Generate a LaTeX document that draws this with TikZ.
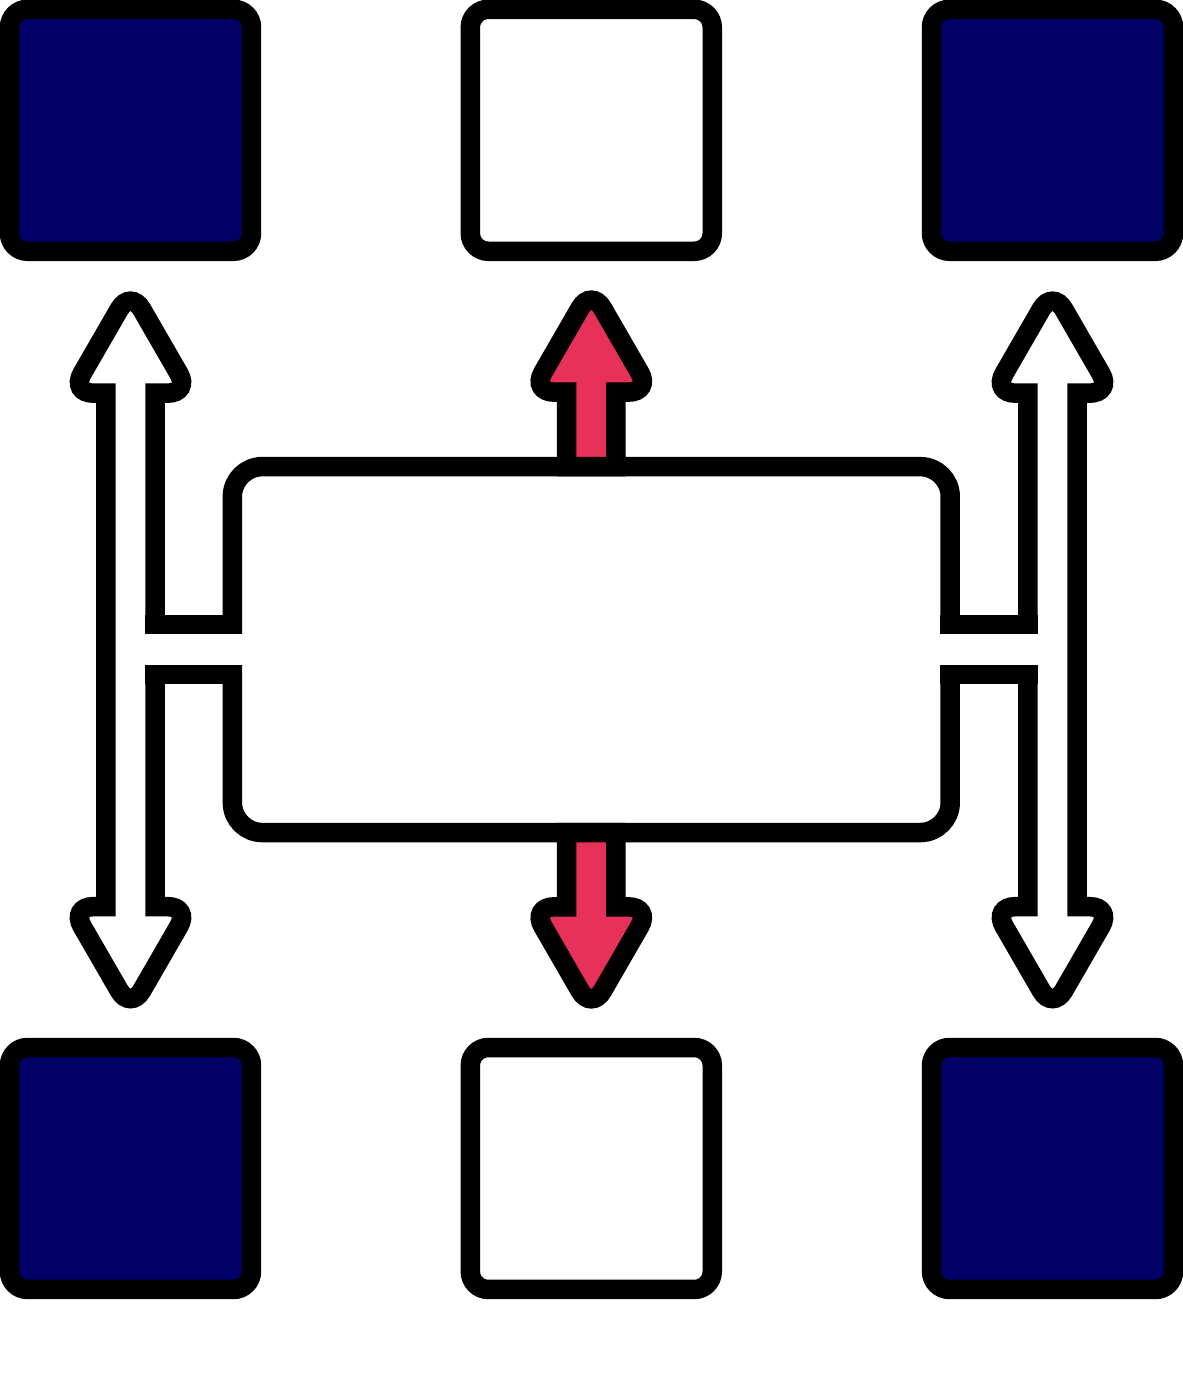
\documentclass[tikz,border=0pt]{standalone}
\usetikzlibrary{calc}
\definecolor{navyfill}{RGB}{0,0,102}
\definecolor{hubred}{RGB}{232,49,88}

\begin{document}
\begin{tikzpicture}[
    x=0.02cm, y=0.02cm,
    base/.style={draw=black, line width=0.39cm, inner sep=0pt, outer sep=0pt},
    tile/.style={base, rectangle, rounded corners=0.36cm, minimum size=4.84cm},
    darktile/.style={tile, fill=navyfill},
    lighttile/.style={tile, fill=white},
    hubbox/.style={base, rectangle, rounded corners=0.6cm, fill=white, minimum width=14.36cm, minimum height=7.32cm},
    blockarrow/.style={draw=black, line width=0.39cm, line join=miter},
    redarrow/.style={blockarrow, fill=hubred},
    hollowarrow/.style={blockarrow, fill=white},
    stub/.style={black, line width=0.39cm, line cap=rect}
  ]
    \useasboundingbox[fill=white] (0,0) rectangle (1183,1390);

    % tiles
    \node[darktile] (tl) at (130.5,1259.7) {};
    \node[lighttile] (tm) at (591.3,1259.7) {};
    \node[darktile] (tr) at (1052.5,1259.7) {};
    \node[darktile] (bl) at (130.5,221.5) {};
    \node[lighttile] (bm) at (591.3,221.5) {};
    \node[darktile] (br) at (1052.5,221.5) {};

    % hub
    \node[hubbox] (hub) at (591.3,740.4) {};

    % red arrows out of the hub
    \draw[redarrow] ($(hub.north)+(-24.6,0)$) -- ++(0,74.5)
      [rounded corners=0.45cm] -- ++(-35.1,0) -- ++(59.7,103.4) -- ++(59.7,-103.4)
      [sharp corners] -- ++(-35.1,0) -- ++(0,-74.5) -- cycle;
    \draw[redarrow] ($(hub.south)+(24.6,0)$) -- ++(0,-74.3)
      [rounded corners=0.45cm] -- ++(35.1,0) -- ++(-59.7,-103.4) -- ++(-59.7,103.4)
      [sharp corners] -- ++(35.1,0) -- ++(0,74.3) -- cycle;

    % side double arrows
    \coordinate (ltip) at ($(tl.south)+(0,-38.5)$);
    \coordinate (rtip) at ($(tr.south)+(0,-38.5)$);
    \draw[hollowarrow] ($(ltip)+(24.6,-103.4)$) -- ++(0,-513.5)
      [rounded corners=0.45cm] -- ++(35.1,0) -- ++(-59.7,-103.4) -- ++(-59.7,103.4)
      [sharp corners] -- ++(35.1,0) -- ++(0,513.5)
      [rounded corners=0.45cm] -- ++(-35.1,0) -- ++(59.7,103.4) -- ++(59.7,-103.4)
      [sharp corners] -- cycle;
    \draw[hollowarrow] ($(rtip)+(24.6,-103.4)$) -- ++(0,-513.5)
      [rounded corners=0.45cm] -- ++(35.1,0) -- ++(-59.7,-103.4) -- ++(-59.7,103.4)
      [sharp corners] -- ++(35.1,0) -- ++(0,513.5)
      [rounded corners=0.45cm] -- ++(-35.1,0) -- ++(59.7,103.4) -- ++(59.7,-103.4)
      [sharp corners] -- cycle;

    % stubs joining hub and shafts
    \fill[white] ($(hub.west)+(-92,-15.3)$) rectangle ($(hub.west)+(12,15.3)$);
    \fill[white] ($(hub.east)+(-12,-15.3)$) rectangle ($(hub.east)+(92,15.3)$);
    \draw[stub] ($(hub.west)+(0,25)$) -- ++(-77.2,0);
    \draw[stub] ($(hub.west)+(0,-25)$) -- ++(-77.2,0);
    \draw[stub] ($(hub.east)+(0,25)$) -- ++(77.7,0);
    \draw[stub] ($(hub.east)+(0,-25)$) -- ++(77.7,0);
  \end{tikzpicture}
\end{document}
